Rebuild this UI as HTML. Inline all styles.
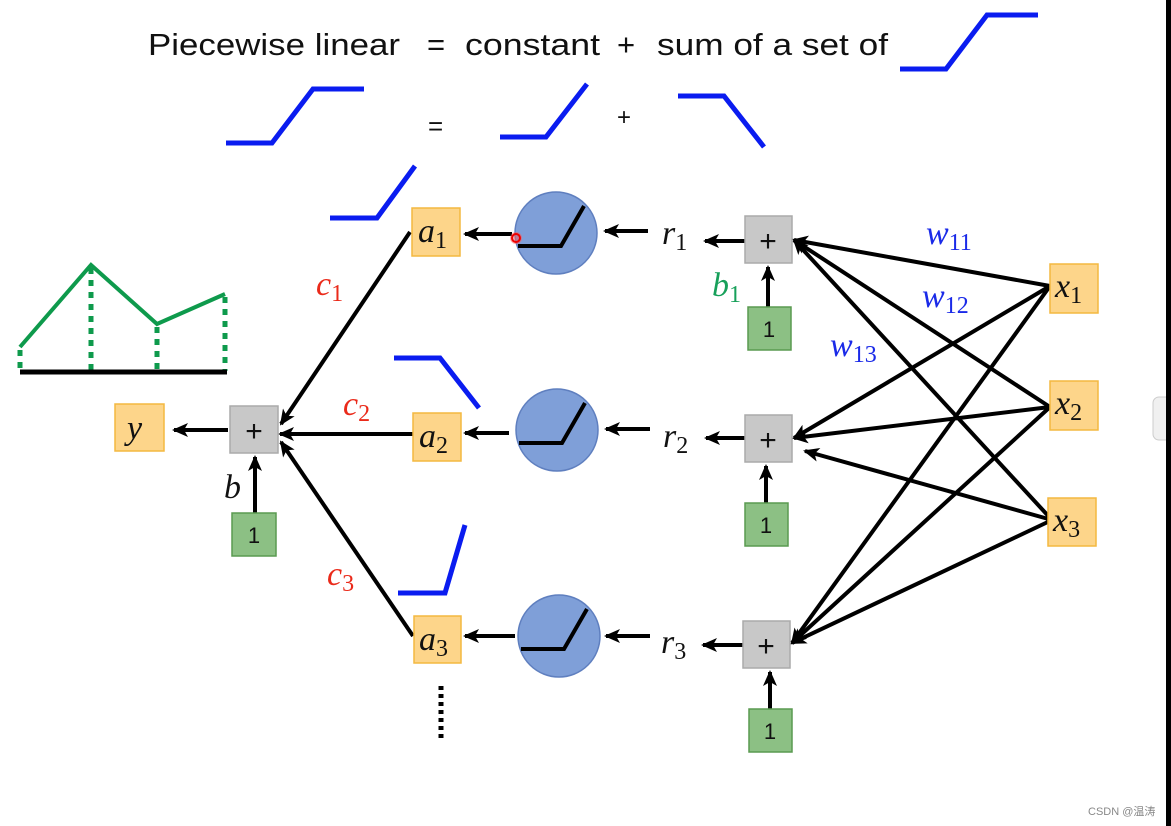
<!DOCTYPE html>
<html><head><meta charset="utf-8"><style>
html,body{margin:0;padding:0;background:#fff;width:1171px;height:826px;overflow:hidden}
svg{display:block}
.m{font-family:"Liberation Serif","DejaVu Serif",serif;font-style:italic}
.s{font-family:"Liberation Sans",sans-serif}
</style></head><body>
<svg width="1171" height="826" viewBox="0 0 1171 826" xmlns="http://www.w3.org/2000/svg">
<defs>
<marker id="a2" markerWidth="16" markerHeight="14" refX="14" refY="7" orient="auto" markerUnits="userSpaceOnUse">
<path d="M0,0 L16,7 L0,14 L4,7 z" fill="#000"/></marker>
</defs>
<g class="s" font-size="31" fill="#111">
<text x="148" y="55" textLength="252" lengthAdjust="spacingAndGlyphs">Piecewise linear</text>
<text x="427" y="55">=</text>
<text x="465" y="55" textLength="135" lengthAdjust="spacingAndGlyphs">constant</text>
<text x="617" y="55">+</text>
<text x="657" y="55" textLength="231" lengthAdjust="spacingAndGlyphs">sum of a set of</text>
</g>
<g stroke="#0a1cf0" stroke-width="5" fill="none">
<polyline points="900,69 946,69 987,15 1038,15"/>
<polyline points="226,143 272,143 313,89 364,89"/>
<polyline points="500,137 546,137 587,84"/>
<polyline points="678,96 724,96 764,147"/>
<polyline points="330,218 377,218 415,166"/>
<polyline points="394,358 440,358 479,408"/>
<polyline points="398,593 445,593 465,525"/>
</g>
<text x="428" y="135" class="s" font-size="26" fill="#111">=</text>
<text x="617" y="125" class="s" font-size="24" fill="#111">+</text>
<polyline points="20,347 91,265 157,324 225,294" stroke="#0e9a4c" stroke-width="4" fill="none"/>
<g stroke="#0e9a4c" stroke-width="5" stroke-dasharray="6,6">
<line x1="20" y1="350" x2="20" y2="371"/><line x1="91" y1="268" x2="91" y2="371"/>
<line x1="157" y1="327" x2="157" y2="371"/><line x1="225" y1="297" x2="225" y2="371"/></g>
<line x1="20" y1="372" x2="227" y2="372" stroke="#000" stroke-width="5"/>
<g stroke="#000" stroke-width="4" fill="none" marker-end="url(#a2)">
<line x1="410" y1="232" x2="281" y2="424"/>
<line x1="413" y1="434" x2="280" y2="434"/>
<line x1="413" y1="636" x2="281" y2="442"/>
<line x1="228" y1="430" x2="174" y2="430"/>
<line x1="255" y1="513" x2="255" y2="457"/>
<line x1="512" y1="234" x2="465" y2="234"/>
<line x1="648" y1="231" x2="605" y2="231"/>
<line x1="745" y1="241" x2="705" y2="241"/>
<line x1="509" y1="433" x2="465" y2="433"/>
<line x1="650" y1="429" x2="606" y2="429"/>
<line x1="745" y1="438" x2="706" y2="438"/>
<line x1="515" y1="636" x2="465" y2="636"/>
<line x1="650" y1="636" x2="606" y2="636"/>
<line x1="743" y1="645" x2="703" y2="645"/>
<line x1="768" y1="307" x2="768" y2="267"/>
<line x1="766" y1="503" x2="766" y2="466"/>
<line x1="770" y1="709" x2="770" y2="672"/>
<line x1="1050" y1="286" x2="794" y2="240"/>
<line x1="1050" y1="407" x2="794" y2="240"/>
<line x1="1052" y1="520" x2="794" y2="240"/>
<line x1="1050" y1="286" x2="794" y2="438"/>
<line x1="1050" y1="407" x2="794" y2="438"/>
<line x1="1052" y1="520" x2="805" y2="451"/>
<line x1="1050" y1="286" x2="792" y2="643"/>
<line x1="1050" y1="407" x2="792" y2="643"/>
<line x1="1052" y1="520" x2="792" y2="643"/>
</g>
<line x1="441" y1="686" x2="441" y2="742" stroke="#000" stroke-width="5" stroke-dasharray="4,4"/>
<g fill="#7f9fd8" stroke="#5f7fbf" stroke-width="1.5">
<circle cx="556" cy="233" r="41"/><circle cx="557" cy="430" r="41"/><circle cx="559" cy="636" r="41"/></g>
<g stroke="#000" stroke-width="4" fill="none">
<polyline points="518,246 561,246 584,206"/>
<polyline points="519,443 562,443 585,403"/>
<polyline points="521,649 564,649 587,609"/>
</g>
<circle cx="516" cy="238" r="6" fill="#ff5a5a" opacity="0.5"/><circle cx="516" cy="238" r="4" fill="none" stroke="#e00" stroke-width="2"/>
<g fill="#fdd58a" stroke="#f4b840" stroke-width="1.5">
<rect x="412" y="208" width="48" height="48"/><rect x="413" y="413" width="48" height="48"/><rect x="414" y="616" width="47" height="47"/>
<rect x="115" y="404" width="49" height="47"/>
<rect x="1050" y="264" width="48" height="49"/><rect x="1050" y="381" width="48" height="49"/><rect x="1048" y="498" width="48" height="48"/>
</g>
<g fill="#c8c8c8" stroke="#aaa" stroke-width="1.5">
<rect x="230" y="406" width="48" height="47"/><rect x="745" y="216" width="47" height="47"/><rect x="745" y="415" width="47" height="47"/><rect x="743" y="621" width="47" height="47"/></g>
<g fill="#8cc084" stroke="#5a9a50" stroke-width="1.5">
<rect x="232" y="513" width="44" height="43"/><rect x="748" y="307" width="43" height="43"/><rect x="745" y="503" width="43" height="43"/><rect x="749" y="709" width="43" height="43"/></g>
<g class="s" font-size="30" fill="#111" text-anchor="middle">
<text x="254" y="441">+</text><text x="768" y="251">+</text><text x="768" y="450">+</text><text x="766" y="656">+</text></g>
<g class="s" font-size="22" fill="#111" text-anchor="middle">
<text x="254" y="543">1</text><text x="769" y="337">1</text><text x="766" y="533">1</text><text x="770" y="739">1</text></g>
<g class="m" font-size="34" fill="#111">
<text x="418" y="242">a<tspan font-size="24" font-style="normal" dy="6">1</tspan></text>
<text x="419" y="447">a<tspan font-size="24" font-style="normal" dy="6">2</tspan></text>
<text x="419" y="650">a<tspan font-size="24" font-style="normal" dy="6">3</tspan></text>
<text x="127" y="439">y</text>
<text x="1055" y="297">x<tspan font-size="24" font-style="normal" dy="6">1</tspan></text>
<text x="1055" y="414">x<tspan font-size="24" font-style="normal" dy="6">2</tspan></text>
<text x="1053" y="531">x<tspan font-size="24" font-style="normal" dy="6">3</tspan></text>
<text x="662" y="244">r<tspan font-size="24" font-style="normal" dy="6">1</tspan></text>
<text x="663" y="447">r<tspan font-size="24" font-style="normal" dy="6">2</tspan></text>
<text x="661" y="653">r<tspan font-size="24" font-style="normal" dy="6">3</tspan></text>
<text x="224" y="498">b</text>
</g>
<g class="m" font-size="34" fill="#ea2a1a">
<text x="316" y="295">c<tspan font-size="24" font-style="normal" dy="6">1</tspan></text>
<text x="343" y="415">c<tspan font-size="24" font-style="normal" dy="6">2</tspan></text>
<text x="327" y="585">c<tspan font-size="24" font-style="normal" dy="6">3</tspan></text></g>
<text x="712" y="296" class="m" font-size="34" fill="#17a05a">b<tspan font-size="24" font-style="normal" dy="6">1</tspan></text>
<g class="m" font-size="34" fill="#1a2ae8">
<text x="926" y="244">w<tspan font-size="24" font-style="normal" dy="6">11</tspan></text>
<text x="922" y="307">w<tspan font-size="24" font-style="normal" dy="6">12</tspan></text>
<text x="830" y="356">w<tspan font-size="24" font-style="normal" dy="6">13</tspan></text></g>
<rect x="1153" y="397" width="20" height="43" rx="6" fill="#f0f0f0" stroke="#ccc"/>
<rect x="1166" y="0" width="5" height="826" fill="#000"/>
<text x="1088" y="815" class="s" font-size="11" fill="#888">CSDN @<tspan font-family="Noto Sans CJK SC,sans-serif">温涛</tspan></text>
</svg>
</body></html>
